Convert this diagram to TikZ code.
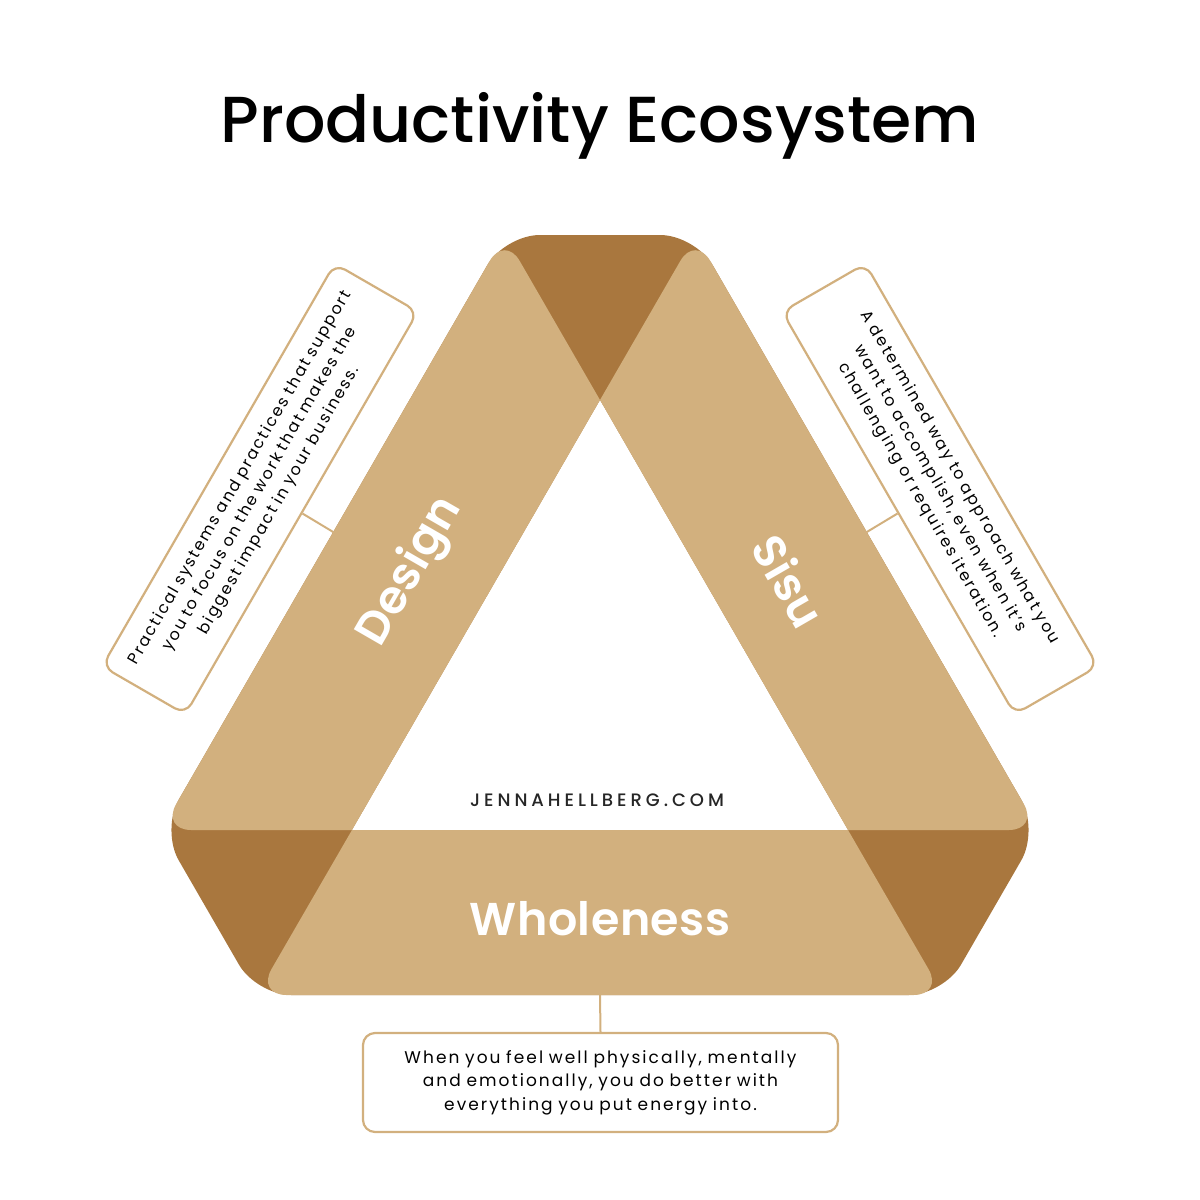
\documentclass[tikz,border=0pt]{standalone}
\usepackage{fontspec}
\setmainfont{Poppins}
\newfontfamily\semibold{Poppins SemiBold}
\newfontfamily\medium{Poppins Medium}
\usetikzlibrary{positioning,calc}
\definecolor{sand}{HTML}{D2B07E}
\definecolor{bronze}{HTML}{A9773E}
\definecolor{inkgray}{HTML}{262626}
\newcommand\notefont{\fontsize{17}{23.5}\selectfont\addfontfeature{LetterSpace=12}}
\newcommand\sidefont{\fontsize{16}{22.5}\selectfont\addfontfeature{LetterSpace=12}}
\newcommand\titlefont{\medium\fontsize{65}{70}\selectfont}
\newcommand\bandfont{\semibold\fontsize{46}{50}\selectfont\addfontfeature{LetterSpace=1}}
\newcommand\sitefont{\medium\fontsize{18}{20}\selectfont\addfontfeature{LetterSpace=22}}

\begin{document}
\begin{tikzpicture}
[
    x=1pt, y=-1pt,
    band/.style = {fill=sand, rounded corners=30pt},
    corner/.style = {fill=bronze, rounded corners=35pt},
    link/.style = {draw=sand, line width=2pt},
]

\tikzstyle{note}=[rectangle, draw=sand, line width=2.2pt, fill=white, rounded corners=12pt, minimum width=465pt, minimum height=96pt, text width=455pt, align=center, inner sep=0pt, font=\notefont]
\tikzstyle{sidenote}=[note, font=\sidefont]
\tikzstyle{bandtext}=[text=white, font=\bandfont, inner sep=0pt]

\useasboundingbox (0,0) rectangle (1200,1200);

\coordinate (A) at (600,400);
\coordinate (B) at (352,830);
\coordinate (D) at (848,830);
\coordinate (TL) at (504.7,235);
\coordinate (TR) at (695.3,235);
\coordinate (LU) at (161.2,830);
\coordinate (RU) at (1038.8,830);
\coordinate (LL) at (256.5,995);
\coordinate (RL) at (943.5,995);

\fill[corner] (TL) -- (TR) -- (RU) -- (RL) -- (LL) -- (LU) -- cycle;
\fill[white] (A) -- (B) -- (D) -- cycle;
\fill[band] (B) -- (LU) -- (TL) -- (A);
\fill[band] (D) -- (RL) -- (LL) -- (B);
\fill[band] (A) -- (TR) -- (RU) -- (D);

\node[anchor=base, font=\titlefont] (title) at (600,142) {Productivity Ecosystem};

\node[bandtext, rotate=60] (design) at (411,572) {Design};
\node[bandtext, rotate=-60] (sisu) at (789,581) {Sisu};
\node[bandtext, anchor=base] (wholeness) at (600,935) {Wholeness};
\node[anchor=base, text=inkgray, font=\sitefont] (site) at (597,806) {JENNAHELLBERG.COM};

\node[sidenote, rotate=60] (designnote) at (260,489) {Practical systems and practices that support\\ you to focus on the work that makes the\\ biggest impact in your business.};
\node[sidenote, rotate=-60] (sisunote) at (940,489) {A determined way to approach what you\\ want to accomplish, even when it’s\\ challenging or requires iteration.};
\node[note, minimum width=475pt, minimum height=99pt] (wholenote) at (600.5,1082.5) {When you feel well physically, mentally\\ and emotionally, you do better with\\ everything you put energy into.};

\coordinate (designpt) at (333.2,532);
\coordinate (sisupt) at (866.8,532);
\coordinate (wholept) at (600,995);
\draw[link] (designnote.south) -- (designpt);
\draw[link] (sisunote.south) -- (sisupt);
\draw[link] (wholenote.north) -- (wholept);
\end{tikzpicture}
\end{document}
